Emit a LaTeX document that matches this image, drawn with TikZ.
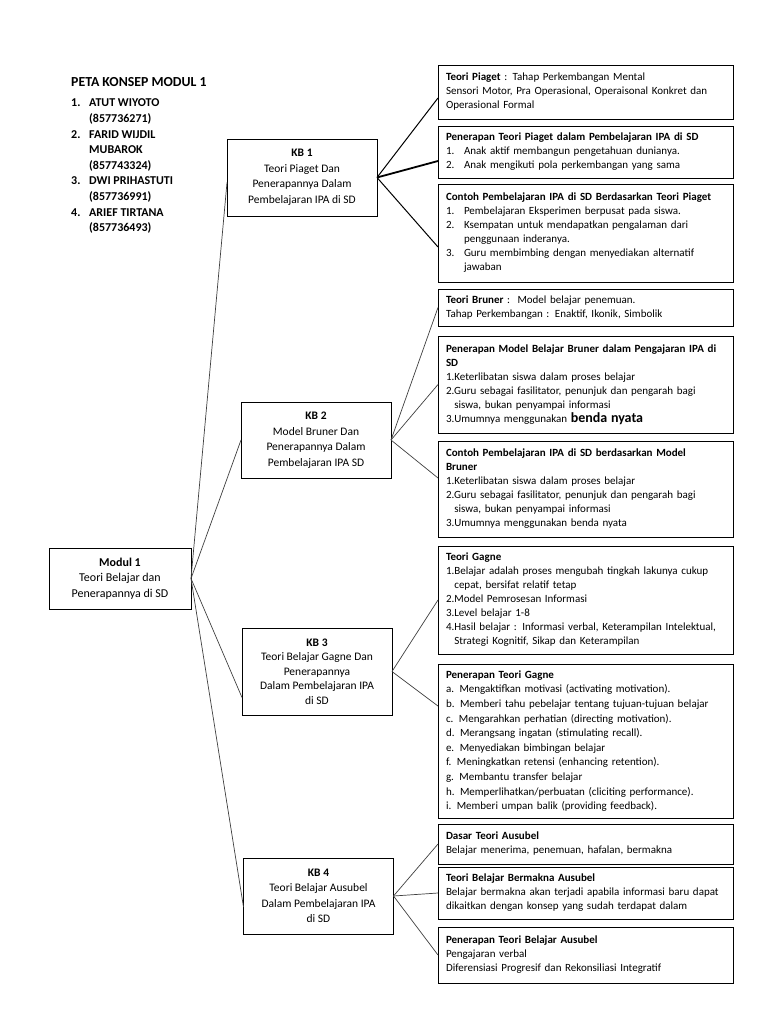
\documentclass[tikz,border=0pt]{standalone}
\usepackage{fontspec}
\setmainfont{Carlito}
\usepackage{tikz}
\usetikzlibrary{positioning}
\newcommand{\nr}[1]{\makebox[18pt][l]{#1}}
\newcommand{\sisip}{\hspace*{18pt}}

\begin{document}
\begin{tikzpicture}[x=1pt,y=-1pt,
    kb/.style={draw,line width=0.9pt,outer sep=0pt,minimum width=150pt,align=center,inner sep=2pt,
      font=\fontsize{11.5}{15.5}\selectfont},
    isi/.style={draw,line width=0.9pt,outer sep=0pt,text width=279pt,inner xsep=8pt,inner ysep=3pt,
      align=left,font=\fontsize{11}{14}\selectfont},
    garis/.style={line width=0.7pt,black!75}]
  \useasboundingbox[fill=white] (0,0) rectangle (768,1024);

  % judul dan anggota kelompok
  \node[anchor=north west,align=left,inner sep=0pt,font=\bfseries\fontsize{12}{15.6}\selectfont] (judul) at (71,77)
    {{\fontsize{13.8}{15}\selectfont PETA KONSEP MODUL 1}\\[5pt]
     \nr{1.}ATUT WIYOTO\\ \sisip(857736271)\\
     \nr{2.}FARID WIJDIL\\ \sisip MUBAROK\\ \sisip(857743324)\\
     \nr{3.}DWI PRIHASTUTI\\ \sisip(857736991)\\
     \nr{4.}ARIEF TIRTANA\\ \sisip(857736493)};

  % modul dan kegiatan belajar
  \node[kb,minimum width=142pt,minimum height=61pt,font=\fontsize{12}{15.5}\selectfont] (modul) at (120,578.5)
    {\textbf{Modul 1}\\ Teori Belajar dan\\ Penerapannya di SD};
  \node[kb,minimum height=77pt] (kb1) at (302,177.5)
    {\textbf{KB 1}\\ Teori Piaget Dan\\ Penerapannya Dalam\\ Pembelajaran IPA di SD};
  \node[kb,minimum height=76pt] (kb2) at (316,440)
    {\textbf{KB 2}\\ Model Bruner Dan\\ Penerapannya Dalam\\ Pembelajaran IPA SD};
  \node[kb,minimum height=87pt,font=\fontsize{11.5}{14.6}\selectfont] (kb3) at (317,671.5)
    {\textbf{KB 3}\\ Teori Belajar Gagne Dan\\ Penerapannya\\ Dalam Pembelajaran IPA\\ di SD};
  \node[kb,minimum height=76pt] (kb4) at (318.5,896)
    {\textbf{KB 4}\\ Teori Belajar Ausubel\\ Dalam Pembelajaran IPA\\ di SD};

  % kotak isi: Piaget
  \node[isi,anchor=north west,minimum height=54pt] (p1) at (438,65)
    {\textbf{Teori Piaget} : Tahap Perkembangan Mental\\
     Sensori Motor, Pra Operasional, Operaisonal Konkret dan\\
     Operasional Formal};
  \node[isi,minimum height=52pt,below=7pt of p1] (p2)
    {\textbf{Penerapan Teori Piaget dalam Pembelajaran IPA di SD}\\
     \nr{1.}Anak aktif membangun pengetahuan dunianya.\\
     \nr{2.}Anak mengikuti pola perkembangan yang sama};
  \node[isi,minimum height=98pt,below=6pt of p2] (p3)
    {\textbf{Contoh Pembelajaran IPA di SD Berdasarkan Teori Piaget}\\
     \nr{1.}Pembelajaran Eksperimen berpusat pada siswa.\\
     \nr{2.}Ksempatan untuk mendapatkan pengalaman dari\\
     \sisip penggunaan inderanya.\\
     \nr{3.}Guru membimbing dengan menyediakan alternatif\\
     \sisip jawaban};

  % kotak isi: Bruner
  \node[isi,minimum height=37pt,below=7pt of p3] (b1)
    {\textbf{Teori Bruner} :\ \ Model belajar penemuan.\\
     Tahap Perkembangan : Enaktif, Ikonik, Simbolik};
  \node[isi,minimum height=97pt,below=10pt of b1] (b2)
    {\textbf{Penerapan Model Belajar Bruner dalam Pengajaran IPA di}\\
     \textbf{SD}\\
     1.Keterlibatan siswa dalam proses belajar\\
     2.Guru sebagai fasilitator, penunjuk dan pengarah bagi\\
     \phantom{2.}siswa, bukan penyampai informasi\\
     3.Umumnya menggunakan {\bfseries\fontsize{14}{14}\selectfont benda nyata}};
  \node[isi,minimum height=96pt,below=8pt of b2] (b3)
    {\textbf{Contoh Pembelajaran IPA di SD berdasarkan Model}\\
     \textbf{Bruner}\\
     1.Keterlibatan siswa dalam proses belajar\\
     2.Guru sebagai fasilitator, penunjuk dan pengarah bagi\\
     \phantom{2.}siswa, bukan penyampai informasi\\
     3.Umumnya menggunakan benda nyata};

  % kotak isi: Gagne
  \node[isi,minimum height=108pt,below=9pt of b3] (g1)
    {\textbf{Teori Gagne}\\
     1.Belajar adalah proses mengubah tingkah lakunya cukup\\
     \phantom{1.}cepat, bersifat relatif tetap\\
     2.Model Pemrosesan Informasi\\
     3.Level belajar 1-8\\
     4.Hasil belajar : Informasi verbal, Keterampilan Intelektual,\\
     \phantom{4.}Strategi Kognitif, Sikap dan Keterampilan};
  \node[isi,minimum height=154pt,below=10pt of g1,font=\fontsize{11}{14.6}\selectfont] (g2)
    {\textbf{Penerapan Teori Gagne}\\
     a. Mengaktifkan motivasi (activating motivation).\\
     b. Memberi tahu pebelajar tentang tujuan-tujuan belajar\\
     c. Mengarahkan perhatian (directing motivation).\\
     d. Merangsang ingatan (stimulating recall).\\
     e. Menyediakan bimbingan belajar\\
     f. Meningkatkan retensi (enhancing retention).\\
     g. Membantu transfer belajar\\
     h. Memperlihatkan/perbuatan (cliciting performance).\\
     i. Memberi umpan balik (providing feedback).};

  % kotak isi: Ausubel
  \node[isi,minimum height=40pt,below=6pt of g2] (a1)
    {\textbf{Dasar Teori Ausubel}\\
     Belajar menerima, penemuan, hafalan, bermakna};
  \node[isi,minimum height=52pt,below=3pt of a1] (a2)
    {\textbf{Teori Belajar Bermakna Ausubel}\\
     Belajar bermakna akan terjadi apabila informasi baru dapat\\
     dikaitkan dengan konsep yang sudah terdapat dalam};
  \node[isi,minimum height=56pt,below=8pt of a2] (a3)
    {\textbf{Penerapan Teori Belajar Ausubel}\\
     Pengajaran verbal\\
     Diferensiasi Progresif dan Rekonsiliasi Integratif};

  % garis penghubung
  \draw[garis] (modul.east) -- ([yshift=-5pt]kb1.west);
  \draw[garis] (modul.east) -- (kb2.west);
  \draw[garis] (modul.east) -- ([yshift=-26pt]kb3.west);
  \draw[garis] (modul.east) -- ([yshift=-11pt]kb4.west);
  \draw[garis,black,line width=1pt] (kb1.east) -- ([yshift=-6pt]p1.west);
  \draw[garis,black,line width=1.8pt] (kb1.east) -- ([yshift=-9pt]p2.west);
  \draw[garis,black,line width=1pt] (kb1.east) -- ([yshift=-14pt]p3.west);
  \draw[garis] (kb2.east) -- (b1.west);
  \draw[garis] (kb2.east) -- (b2.west);
  \draw[garis] (kb2.east) -- ([yshift=11pt]b3.west);
  \draw[garis] (kb3.east) -- (g1.west);
  \draw[garis] (kb3.east) -- ([yshift=35pt]g2.west);
  \draw[garis] (kb4.east) -- (a1.west);
  \draw[garis] (kb4.east) -- (a2.west);
  \draw[garis] (kb4.east) -- (a3.west);
\end{tikzpicture}
\end{document}
